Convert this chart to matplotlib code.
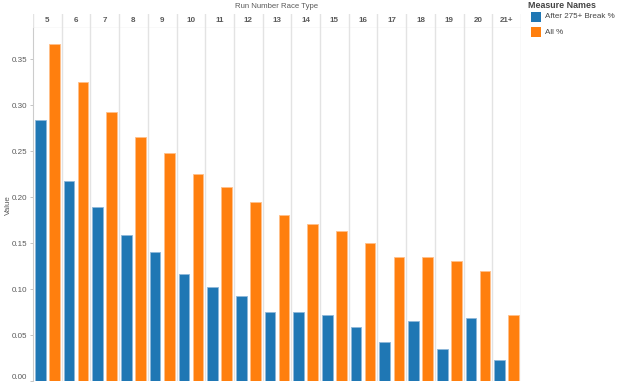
import matplotlib.pyplot as plt
from matplotlib.patches import Rectangle
import numpy as np

plt.rcParams['font.family'] = ['Liberation Sans', 'DejaVu Sans']

# datos
categorias = ['5', '6', '7', '8', '9', '10', '11', '12', '13', '14', '15', '16', '17', '18', '19', '20', '21+']
after_break = [0.284, 0.217, 0.1895, 0.159, 0.140, 0.116, 0.102, 0.0927, 0.0747, 0.0755,
               0.0714, 0.059, 0.042, 0.065, 0.0348, 0.0685, 0.0225]
all_pct = [0.366, 0.325, 0.292, 0.2655, 0.2475, 0.225, 0.2105, 0.195, 0.180, 0.1707,
           0.163, 0.150, 0.1345, 0.1345, 0.130, 0.1196, 0.0717]
series_names = ['After 275+ Break %', 'All %']
yticks = [0.00, 0.05, 0.10, 0.15, 0.20, 0.25, 0.30, 0.35]

azul = '#1f77b4'
naranja = '#ff7f0e'
gris = '#5a5a5a'
linea = '#e3e3e3'

W, H = 630, 382
fig = plt.figure(figsize=(W / 100, H / 100), dpi=100)

x0, x1 = 33, 521
ytop, ybot = 28, 381
ax = fig.add_axes([x0 / W, 1 - ybot / H, (x1 - x0) / W, (ybot - ytop) / H])

n = len(categorias)
x = np.arange(n)
ax.bar(x - 0.245, after_break, width=0.37, color=azul, edgecolor='#8fb8da', linewidth=0.6, zorder=3)
ax.bar(x + 0.245, all_pct, width=0.37, color=naranja, edgecolor='#ffc08a', linewidth=0.6, zorder=3)

ax.set_xlim(-0.5, n - 0.5)
ax.set_ylim(0, 0.3837)
ax.set_xticks([])
ax.set_yticks(yticks)
ax.set_yticklabels(['%.2f' % v for v in yticks], color=gris, fontsize=5.8)
ax.get_yticklabels()[0].set_va('bottom')
ax.tick_params(axis='y', length=2, width=0.6, color='#bbbbbb', pad=2)
fig.text(8 / W, 1 - 205 / H, 'Value', rotation=90, ha='center', va='center',
         fontsize=5.8, color=gris)

for s in ax.spines.values():
    s.set_visible(False)
ax.spines['left'].set_visible(True)
ax.spines['left'].set_color('#cccccc')
ax.spines['left'].set_linewidth(0.8)

# divisiones de columnas
for i in range(1, n + 1):
    ax.axvline(i - 0.5, color=linea, linewidth=1.0, zorder=1)

# encabezado
hdr = fig.add_axes([x0 / W, 1 - ytop / H, (x1 - x0) / W, 14 / H])
hdr.set_xlim(-0.5, n - 0.5)
hdr.set_ylim(0, 1)
hdr.axis('off')
for i in range(n + 1):
    hdr.plot([i - 0.5, i - 0.5], [0, 1], color=linea, linewidth=1.0)
hdr.plot([-0.5, n - 0.5], [0, 0], color=linea, linewidth=1.0)
for i, c in enumerate(categorias):
    hdr.text(i, 0.5, c, ha='center', va='center', fontsize=5.8, fontweight='bold', color=gris)
fig.text((x0 + x1) / 2 / W, 1 - 6 / H, 'Run Number Race Type', ha='center', va='center',
         fontsize=5.6, color=gris)

# leyenda
fig.text(528 / W, 1 - 6 / H, 'Measure Names', ha='left', va='center', fontsize=6.4,
         fontweight='bold', color='#444444')
for k, (nombre, col) in enumerate(zip(series_names, [azul, naranja])):
    yc = 17 + k * 15
    fig.patches.append(Rectangle((531 / W, 1 - (yc + 5) / H), 10 / W, 10 / H,
                                 transform=fig.transFigure, facecolor=col, edgecolor='none'))
    fig.text(545 / W, 1 - yc / H, nombre, ha='left', va='center', fontsize=5.8, color='#444444')

plt.savefig('out.png', dpi=100)
